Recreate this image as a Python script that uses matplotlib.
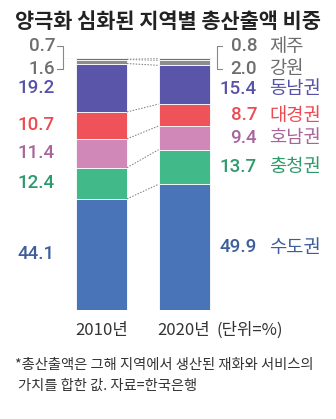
import numpy as np
import matplotlib.pyplot as plt

plt.rcParams['font.family'] = ['Noto Sans CJK KR', 'DejaVu Sans']

# 데이터 (아래에서 위로)
regions = ['수도권', '충청권', '호남권', '대경권', '동남권', '강원', '제주']
share_2010 = [44.1, 12.4, 11.4, 10.7, 19.2, 1.6, 0.7]
share_2020 = [49.9, 13.7, 9.4, 8.7, 15.4, 2.0, 0.8]
years = ['2010년', '2020년']

bar_colors = ['#4a74b8', '#41b988', '#d088b8', '#f0525a', '#5a55a8', '#8c8c8c', '#6e6e6e']
text_colors = ['#3d5d9c', '#2e9a6c', '#a8659c', '#ee4a52', '#5652a8', '#6e6e6e', '#6e6e6e']

fig = plt.figure(figsize=(3.36, 4.19), dpi=100)
# 축: x는 픽셀 기준, y는 % (0 -> 310px, 100 -> 58px)
ax = fig.add_axes([0, (419 - 310) / 419, 1, (310 - 58) / 419])
ax.set_xlim(0, 336)
ax.set_ylim(0, 100)
ax.axis('off')

x_pos = [101.5, 184]
width = 51

bottoms_2010 = np.concatenate([[0], np.cumsum(share_2010)[:-1]])
bottoms_2020 = np.concatenate([[0], np.cumsum(share_2020)[:-1]])

for i in range(len(regions)):
    ax.bar(x_pos[0], share_2010[i], width, bottom=bottoms_2010[i],
           color=bar_colors[i], edgecolor='white', linewidth=0.6)
    ax.bar(x_pos[1], share_2020[i], width, bottom=bottoms_2020[i],
           color=bar_colors[i], edgecolor='white', linewidth=0.6)

# 점선 연결
tops_2010 = np.concatenate([[0], np.cumsum(share_2010)])
tops_2020 = np.concatenate([[0], np.cumsum(share_2020)])
for a, b in zip(tops_2010, tops_2020):
    ax.plot([x_pos[0] + width / 2, x_pos[1] - width / 2], [a, b],
            color='#777777', linestyle=(0, (1.5, 1.5)), linewidth=0.7)

fs = 13.5
num_font = ['Roboto', 'Noto Sans CJK KR']
wt = 'medium'

# 라벨 위치: 구간 중앙 (오른쪽 동남권만 조금 아래로)
y_2010 = [bottoms_2010[i] + share_2010[i] / 2 for i in range(5)]
y_2020 = [bottoms_2020[i] + share_2020[i] / 2 for i in range(5)]
y_2020[4] -= 1.6
small_y = {6: 104.6, 5: 95.8}
for i, yy in small_y.items():
    y_2010.append(None)
    y_2020.append(None)
for i, yy in small_y.items():
    y_2010[i] = yy
    y_2020[i] = yy

for i in range(len(regions)):
    ax.text(55, y_2010[i], f'{share_2010[i]:.1f}', ha='right', va='center',
            fontsize=fs, fontweight=wt, color=text_colors[i], family=num_font)
    ax.text(257, y_2020[i], f'{share_2020[i]:.1f}', ha='right', va='center',
            fontsize=fs, fontweight=wt, color=text_colors[i], family=num_font)
    ax.text(269, y_2020[i], regions[i], ha='left', va='center',
            fontsize=fs, fontweight=wt, color=text_colors[i])

lc = '#888888'
mid = (small_y[6] + small_y[5]) / 2
# 왼쪽 괄호
ax.plot([57, 63, 63, 57], [small_y[6], small_y[6], small_y[5], small_y[5]],
        color=lc, linewidth=0.8, clip_on=False)
ax.plot([63, x_pos[0] - width / 2], [mid, mid], color=lc, linewidth=0.8)
# 오른쪽 괄호
ax.plot([222, 217, 217, 222], [small_y[6], small_y[6], small_y[5], small_y[5]],
        color=lc, linewidth=0.8, clip_on=False)
ax.plot([x_pos[1] + width / 2, 217], [mid, mid], color=lc, linewidth=0.8)

# 연도 라벨
year_font = ['Liberation Sans Narrow', 'Noto Sans CJK KR']
ax.text(x_pos[0], -8, years[0], ha='center', va='center', fontsize=12,
        color='#333333', family=year_font)
ax.text(x_pos[1], -8, years[1], ha='center', va='center', fontsize=12,
        color='#333333', family=year_font)
ax.text(217, -8, '(단위=%)', ha='left', va='center', fontsize=12,
        color='#333333', family=year_font)

# 제목
fig.text(0.5, 1 - 22 / 419, '양극화 심화된 지역별 총산출액 비중', ha='center',
         va='center', fontsize=15, fontweight='bold', color='#222222')

# 각주
fig.text(15 / 336, 1 - 365 / 419, '*총산출액은 그해 지역에서 생산된 재화와 서비스의',
         ha='left', va='center', fontsize=10.3, color='#333333')
fig.text(18 / 336, 1 - 386 / 419, '가치를 합한 값. 자료=한국은행',
         ha='left', va='center', fontsize=10.3, color='#333333')

plt.savefig('out.png', dpi=100)
plt.close()
